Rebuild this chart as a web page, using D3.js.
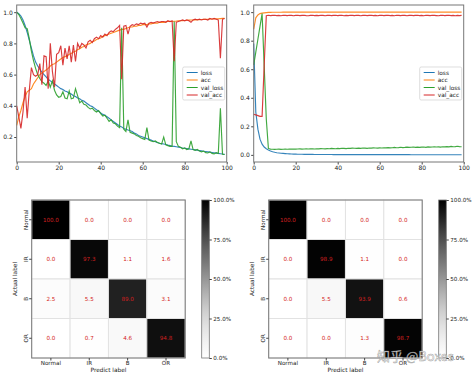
<!DOCTYPE html>
<html>
<head>
<meta charset="utf-8">
<script src="https://cdn.jsdelivr.net/npm/d3@7"></script>
<style>
  body { margin: 0; background: #fff; }
  svg { display: block; font-family: "DejaVu Sans", sans-serif; }
</style>
</head>
<body>
<svg id="chart" width="474" height="374"></svg>
<script>
// ---- data ----
const epochs = d3.range(0, 100);
const xTicks = [0, 20, 40, 60, 80, 100];
const seriesNames = ["loss", "acc", "val_loss", "val_acc"];
const seriesColors = ["#1f77b4", "#ff7f0e", "#2ca02c", "#d62728"];

// left run
const loss1 = [1.00,0.99,0.975,0.95,0.915,0.87,0.82,0.77,0.72,0.68,
  0.655,0.635,0.615,0.60,0.585,0.57,0.56,0.55,0.54,0.53,
  0.52,0.51,0.505,0.495,0.49,0.48,0.475,0.465,0.46,0.45,
  0.445,0.435,0.43,0.42,0.41,0.40,0.395,0.385,0.375,0.365,
  0.355,0.345,0.34,0.33,0.32,0.31,0.30,0.29,0.28,0.27,
  0.265,0.255,0.25,0.245,0.24,0.235,0.225,0.22,0.21,0.205,
  0.20,0.195,0.19,0.185,0.18,0.175,0.17,0.165,0.16,0.158,
  0.155,0.152,0.148,0.145,0.142,0.14,0.138,0.135,0.133,0.13,
  0.128,0.126,0.124,0.122,0.12,0.118,0.115,0.113,0.111,0.109,
  0.107,0.105,0.103,0.101,0.099,0.097,0.095,0.093,0.091,0.089];
const acc1 = [0.275,0.33,0.37,0.42,0.46,0.49,0.50,0.51,0.54,0.56,
  0.58,0.60,0.61,0.62,0.63,0.64,0.655,0.665,0.67,0.68,
  0.69,0.70,0.71,0.715,0.72,0.73,0.735,0.745,0.75,0.76,
  0.765,0.775,0.78,0.79,0.795,0.80,0.81,0.815,0.825,0.83,
  0.835,0.845,0.85,0.855,0.86,0.865,0.87,0.875,0.88,0.885,
  0.89,0.89,0.895,0.90,0.905,0.905,0.91,0.91,0.915,0.915,
  0.92,0.92,0.92,0.925,0.925,0.93,0.93,0.93,0.935,0.935,
  0.935,0.938,0.94,0.94,0.94,0.942,0.943,0.945,0.945,0.946,
  0.947,0.948,0.949,0.95,0.95,0.951,0.952,0.952,0.953,0.954,
  0.954,0.955,0.956,0.956,0.957,0.958,0.958,0.959,0.96,0.96];
const valLoss1 = [1.00,0.985,0.96,0.93,0.90,0.895,0.83,0.75,0.69,0.64,
  0.60,0.575,0.555,0.545,0.53,0.56,0.52,0.56,0.50,0.47,
  0.455,0.46,0.49,0.45,0.445,0.495,0.445,0.45,0.51,0.465,
  0.42,0.43,0.41,0.405,0.39,0.38,0.385,0.37,0.36,0.37,
  0.35,0.335,0.34,0.32,0.30,0.31,0.29,0.285,0.27,0.26,
  0.90,0.25,0.235,0.31,0.23,0.225,0.22,0.21,0.205,0.195,
  0.19,0.185,0.26,0.18,0.175,0.17,0.175,0.165,0.16,0.155,
  0.20,0.15,0.145,0.14,0.14,0.94,0.17,0.14,0.135,0.125,
  0.13,0.12,0.125,0.175,0.12,0.115,0.12,0.11,0.105,0.11,
  0.10,0.098,0.105,0.095,0.092,0.10,0.095,0.385,0.09,0.088];
const valAcc1 = [0.40,0.33,0.255,0.36,0.52,0.32,0.50,0.645,0.60,0.59,
  0.60,0.67,0.535,0.72,0.715,0.51,0.80,0.62,0.52,0.73,
  0.74,0.785,0.66,0.77,0.70,0.785,0.68,0.79,0.685,0.80,
  0.77,0.80,0.79,0.77,0.81,0.82,0.805,0.83,0.84,0.83,
  0.85,0.84,0.86,0.85,0.87,0.88,0.875,0.89,0.90,0.915,
  0.57,0.91,0.915,0.86,0.91,0.92,0.915,0.925,0.92,0.93,
  0.925,0.93,0.905,0.93,0.935,0.93,0.935,0.94,0.935,0.94,
  0.94,0.935,0.945,0.94,0.945,0.685,0.935,0.94,0.945,0.95,
  0.945,0.95,0.945,0.935,0.95,0.955,0.95,0.955,0.95,0.955,
  0.955,0.95,0.96,0.955,0.96,0.955,0.95,0.705,0.955,0.96];

// right run
const loss2 = [0.78,0.30,0.18,0.11,0.075,0.055,0.043,0.034,0.027,0.022,
  0.018,0.015,0.013,0.011,0.010,0.009,0.008,0.007,0.006,0.0055,
  0.005,0.0045,0.004,0.004,0.0035,0.0035,0.003,0.003,0.003,0.0028,
  0.0027,0.0026,0.0025,0.0025,0.0024,0.0023,0.0023,0.0022,0.0022,0.0021,
  0.0021,0.002,0.002,0.002,0.0019,0.0019,0.0019,0.0018,0.0018,0.0018,
  0.0017,0.0017,0.0017,0.0016,0.0016,0.0016,0.0016,0.0015,0.0015,0.0015,
  0.0015,0.0014,0.0014,0.0014,0.0014,0.0013,0.0013,0.0013,0.0013,0.0013,
  0.0012,0.0012,0.0012,0.0012,0.0012,0.0011,0.0011,0.0011,0.0011,0.0011,
  0.0011,0.001,0.001,0.001,0.001,0.001,0.001,0.001,0.0009,0.0009,
  0.0009,0.0009,0.0009,0.0009,0.0009,0.0008,0.0008,0.0008,0.0008,0.0008];
const acc2 = [0.88,0.96,0.98,0.99,0.993,0.995,0.997,0.998,0.998,0.999,
  0.999,0.999,0.999,0.999,1.0,1.0,1.0,1.0,1.0,1.0,
  1.0,1.0,1.0,1.0,1.0,1.0,1.0,1.0,1.0,1.0,
  1.0,1.0,1.0,1.0,1.0,1.0,1.0,1.0,1.0,1.0,
  1.0,1.0,1.0,1.0,1.0,1.0,1.0,1.0,1.0,1.0,
  1.0,1.0,1.0,1.0,1.0,1.0,1.0,1.0,1.0,1.0,
  1.0,1.0,1.0,1.0,1.0,1.0,1.0,1.0,1.0,1.0,
  1.0,1.0,1.0,1.0,1.0,1.0,1.0,1.0,1.0,1.0,
  1.0,1.0,1.0,1.0,1.0,1.0,1.0,1.0,1.0,1.0,
  1.0,1.0,1.0,1.0,1.0,1.0,1.0,1.0,1.0,1.0];
const valLoss2 = [0.63,0.72,0.81,0.90,0.99,0.62,0.25,0.045,0.040,0.039,
  0.038,0.039,0.040,0.038,0.039,0.040,0.039,0.041,0.040,0.041,
  0.040,0.041,0.042,0.040,0.041,0.042,0.041,0.043,0.042,0.041,
  0.043,0.042,0.044,0.043,0.042,0.044,0.043,0.045,0.044,0.043,
  0.045,0.044,0.046,0.045,0.044,0.046,0.045,0.047,0.046,0.045,
  0.047,0.046,0.048,0.047,0.046,0.048,0.047,0.049,0.048,0.047,
  0.049,0.048,0.050,0.049,0.051,0.049,0.050,0.052,0.050,0.051,
  0.053,0.051,0.052,0.054,0.052,0.053,0.055,0.053,0.054,0.052,
  0.054,0.055,0.053,0.056,0.054,0.055,0.057,0.055,0.056,0.054,
  0.057,0.056,0.058,0.056,0.059,0.057,0.058,0.060,0.058,0.057];
const valAcc2 = [0.285,0.28,0.275,0.27,0.27,0.63,0.975,0.978,0.976,0.977,
  0.978,0.976,0.977,0.975,0.978,0.977,0.976,0.978,0.977,0.975,
  0.977,0.978,0.976,0.977,0.978,0.976,0.975,0.977,0.978,0.976,
  0.977,0.976,0.978,0.977,0.975,0.977,0.978,0.976,0.977,0.978,
  0.976,0.977,0.978,0.975,0.977,0.976,0.978,0.977,0.976,0.978,
  0.977,0.975,0.977,0.978,0.976,0.977,0.978,0.976,0.977,0.975,
  0.977,0.978,0.976,0.977,0.978,0.976,0.977,0.975,0.978,0.977,
  0.976,0.978,0.977,0.975,0.977,0.978,0.976,0.977,0.978,0.976,
  0.977,0.975,0.978,0.977,0.976,0.978,0.977,0.976,0.975,0.977,
  0.978,0.976,0.977,0.978,0.976,0.977,0.975,0.977,0.976,0.977];

// confusion matrices (percent, rows = actual, cols = predicted)
const classes = ["Normal", "IR", "B", "OR"];
const cm1 = [
  [100.0, 0.0, 0.0, 0.0],
  [0.0, 97.3, 1.1, 1.6],
  [2.5, 5.5, 89.0, 3.1],
  [0.0, 0.7, 4.6, 94.8],
];
const cm2 = [
  [100.0, 0.0, 0.0, 0.0],
  [0.0, 98.9, 1.1, 0.0],
  [0.0, 5.5, 93.9, 0.6],
  [0.0, 0.0, 1.3, 98.7],
];
const cbarTicks = [0, 25, 50, 75, 100];

const svg = d3.select("#chart");

// ---- line charts ----
function drawHistory(left, series, yDomain, yTicks) {
  const top = 5, bottom = 162, w = 210;
  const x = d3.scaleLinear([0, 100], [left, left + w]);
  const y = d3.scaleLinear(yDomain, [bottom, top]);
  const g = svg.append("g");

  g.append("g")
    .attr("transform", "translate(0," + bottom + ")")
    .call(d3.axisBottom(x).tickValues(xTicks).tickSize(2.5).tickPadding(1.5))
    .call(styleAxis);
  g.append("g")
    .attr("transform", "translate(" + left + ",0)")
    .call(d3.axisLeft(y).tickValues(yTicks).tickFormat(d3.format(".1f")).tickSize(2.5).tickPadding(1.5))
    .call(styleAxis);

  const line = d3.line().x((d, i) => x(epochs[i])).y(d => y(d));
  series.forEach((s, k) => {
    g.append("path")
      .datum(s)
      .attr("fill", "none")
      .attr("stroke", seriesColors[k])
      .attr("stroke-width", 1.15)
      .attr("stroke-opacity", 0.9)
      .attr("d", line);
  });

  // frame
  g.append("rect")
    .attr("x", left).attr("y", top)
    .attr("width", w).attr("height", bottom - top)
    .attr("fill", "none").attr("stroke", "#777").attr("stroke-width", 1);

  // legend
  const lx = left + 166, ly = 67;
  const lg = g.append("g").attr("transform", "translate(" + lx + "," + ly + ")");
  lg.append("rect")
    .attr("width", 42).attr("height", 33).attr("rx", 1.5)
    .attr("fill", "rgba(255,255,255,0.8)").attr("stroke", "#d0d0d0").attr("stroke-width", 0.7);
  seriesNames.forEach((n, k) => {
    const yy = 5.5 + k * 7.5;
    lg.append("line")
      .attr("x1", 4).attr("x2", 15).attr("y1", yy).attr("y2", yy)
      .attr("stroke", seriesColors[k]).attr("stroke-width", 1);
    lg.append("text")
      .attr("x", 18).attr("y", yy).attr("dy", "0.35em")
      .attr("font-size", 5.8).attr("fill", "#222")
      .text(n);
  });
}

function styleAxis(sel) {
  sel.select(".domain").remove();
  sel.selectAll(".tick line").attr("stroke", "#444");
  sel.selectAll(".tick text").attr("font-size", 6).attr("fill", "#222").attr("font-family", "DejaVu Sans");
}

drawHistory(16.7, [loss1, acc1, valLoss1, valAcc1], [0.04, 1.046], [0.2, 0.4, 0.6, 0.8, 1.0]);
drawHistory(253.7, [loss2, acc2, valLoss2, valAcc2], [-0.05, 1.05], [0.0, 0.2, 0.4, 0.6, 0.8, 1.0]);

// ---- confusion matrices ----
const color = d3.scaleSequential(d3.interpolateGreys).domain([0, 100]);

const grad = svg.append("defs").append("linearGradient")
  .attr("id", "greys").attr("x1", 0).attr("y1", 1).attr("x2", 0).attr("y2", 0);
d3.range(0, 101, 10).forEach(v => {
  grad.append("stop").attr("offset", v + "%").attr("stop-color", color(v));
});

function drawMatrix(left, data) {
  const top = 200, size = 153.5, h = 158;
  const x = d3.scaleBand(classes, [left, left + size]);
  const y = d3.scaleBand(classes, [top, top + h]);
  const g = svg.append("g");

  data.forEach((row, i) => {
    row.forEach((v, j) => {
      g.append("rect")
        .attr("x", x(classes[j])).attr("y", y(classes[i]))
        .attr("width", x.bandwidth()).attr("height", y.bandwidth())
        .attr("fill", color(v))
        .attr("stroke", "#e2e2e2").attr("stroke-width", 1);
      g.append("text")
        .attr("x", x(classes[j]) + x.bandwidth() / 2)
        .attr("y", y(classes[i]) + y.bandwidth() / 2)
        .attr("dy", "0.35em")
        .attr("text-anchor", "middle")
        .attr("font-size", 5.6)
        .attr("fill", "#d42020")
        .text(v.toFixed(1));
    });
  });
  g.append("rect")
    .attr("x", left).attr("y", top).attr("width", size).attr("height", h)
    .attr("fill", "none").attr("stroke", "#777").attr("stroke-width", 1);

  // tick labels
  classes.forEach(c => {
    g.append("line")
      .attr("x1", x(c) + x.bandwidth() / 2).attr("x2", x(c) + x.bandwidth() / 2)
      .attr("y1", top + h).attr("y2", top + h + 2.5).attr("stroke", "#444");
    g.append("text")
      .attr("x", x(c) + x.bandwidth() / 2).attr("y", top + h + 5.5)
      .attr("dy", "0.35em").attr("text-anchor", "middle")
      .attr("font-size", 5.6).attr("fill", "#222").text(c);
    const cy = y(c) + y.bandwidth() / 2;
    g.append("line")
      .attr("x1", left - 2.5).attr("x2", left).attr("y1", cy).attr("y2", cy).attr("stroke", "#444");
    g.append("text")
      .attr("transform", "translate(" + (left - 6) + "," + cy + ") rotate(-90)")
      .attr("dy", "0.35em").attr("text-anchor", "middle")
      .attr("font-size", 5.6).attr("fill", "#222").text(c);
  });
  g.append("text")
    .attr("x", left + size / 2).attr("y", top + h + 11.5)
    .attr("dy", "0.35em").attr("text-anchor", "middle")
    .attr("font-size", 5.8).attr("fill", "#222").text("Predict label");
  g.append("text")
    .attr("transform", "translate(" + (left - 16.5) + "," + (top + h / 2) + ") rotate(-90)")
    .attr("dy", "0.35em").attr("text-anchor", "middle")
    .attr("font-size", 5.8).attr("fill", "#222").text("Actual label");

  // colorbar
  const cbx = left + 170;
  const cy = d3.scaleLinear([0, 100], [top + h, top]);
  g.append("rect")
    .attr("x", cbx).attr("y", top).attr("width", 7.6).attr("height", h)
    .attr("fill", "url(#greys)").attr("stroke", "#777").attr("stroke-width", 0.8);
  g.append("g")
    .attr("transform", "translate(" + (cbx + 7.6) + ",0)")
    .call(d3.axisRight(cy).tickValues(cbarTicks).tickFormat(d => d.toFixed(1) + "%").tickSize(2.5).tickPadding(1.5))
    .call(sel => {
      sel.select(".domain").remove();
      sel.selectAll(".tick line").attr("stroke", "#444");
      sel.selectAll(".tick text").attr("font-size", 5.6).attr("fill", "#222").attr("font-family", "DejaVu Sans");
    });
}

drawMatrix(31.7, cm1);
drawMatrix(268.7, cm2);

// watermark (sits over the corner labels, as in the source image)
svg.append("text")
  .attr("x", 377).attr("y", 361)
  .attr("font-family", "Noto Sans CJK SC, sans-serif")
  .attr("font-size", 13)
  .attr("fill", "rgba(255,255,255,0.85)")
  .attr("stroke", "rgba(120,120,120,0.7)")
  .attr("stroke-width", 0.5)
  .text("知乎 @Boxes");
</script>
</body>
</html>
